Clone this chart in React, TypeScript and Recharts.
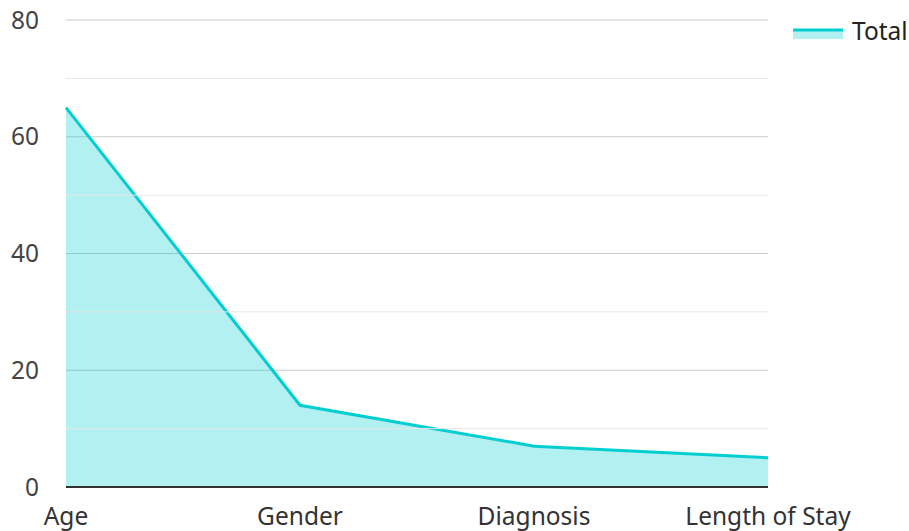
import React from 'react';
import { AreaChart, Area, XAxis, YAxis, CartesianGrid, ReferenceLine } from 'recharts';

const categories = ['Age', 'Gender', 'Diagnosis', 'Length of Stay'];
const totals = [65, 14, 7, 5];
const majorTicks = [0, 20, 40, 60, 80];
const minorTicks = [10, 30, 50, 70];

const data = categories.map((c, i) => ({ name: c, Total: totals[i] }));

const COLOR = '#00CED1';
const FONT = '"Noto Sans", "Open Sans", sans-serif';
const FS = 24.5;

const LegendBox = () => (
  <div
    style={{
      position: 'absolute',
      left: 792,
      top: 14,
      display: 'flex',
      alignItems: 'center',
      fontFamily: FONT,
      fontSize: FS,
      color: '#222',
      whiteSpace: 'nowrap',
    }}
  >
    <svg width={52} height={18} style={{ marginRight: 8 }}>
      <rect x={1} y={7} width={50} height={10} fill={COLOR} fillOpacity={0.3} />
      <line x1={1} x2={51} y1={8} y2={8} stroke={COLOR} strokeWidth={3} />
    </svg>
    <span>{'Total'}</span>
  </div>
);

export default function App() {
  return (
    <div style={{ position: 'absolute', left: 0, top: 0, width: 909, height: 531 }}>
      <AreaChart width={909} height={531} data={data} margin={{ top: 20, right: 141, bottom: 14, left: 0 }}>
        <CartesianGrid vertical={false} stroke="#cccccc" strokeWidth={1} />
        {minorTicks.map((t) => (
          <ReferenceLine key={t} y={t} stroke="#e6e6e6" strokeWidth={1} />
        ))}
        <XAxis
          dataKey="name"
          height={30}
          axisLine={{ stroke: '#333', strokeWidth: 2 }}
          tickLine={false}
          tick={{ fill: '#333', fontSize: FS, fontFamily: FONT }}
          tickMargin={15}
          interval={0}
        />
        <YAxis
          domain={[0, 80]}
          ticks={majorTicks}
          width={66}
          axisLine={false}
          tickLine={false}
          tickMargin={21}
          tick={{ fill: '#444', fontSize: FS, fontFamily: FONT }}
        />
        <Area
          type="linear"
          dataKey="Total"
          stroke={COLOR}
          strokeWidth={3}
          fill={COLOR}
          fillOpacity={0.3}
          isAnimationActive={false}
          dot={false}
          activeDot={false}
        />
      </AreaChart>
      <LegendBox />
    </div>
  );
}
